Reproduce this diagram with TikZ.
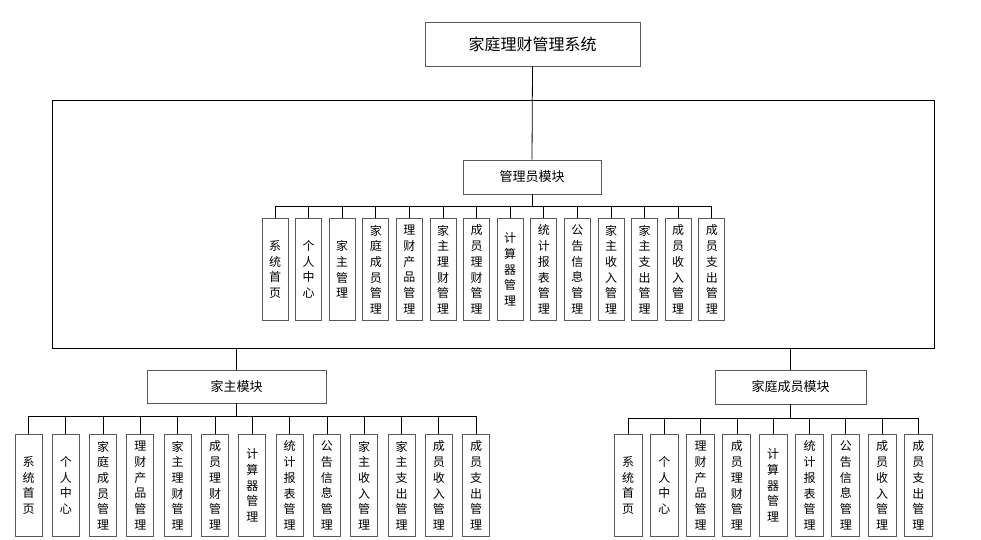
\documentclass[tikz,border=0pt]{standalone}
\usepackage{fontspec}
\newfontfamily\cjk{Noto Sans CJK SC}
\usetikzlibrary{calc}

\tikzset{
  box/.style={draw=black!65, line width=0.9pt, fill=white, inner sep=0pt, font=\cjk\fontsize{13}{15}\selectfont},
  leaf/.style={box, minimum width=26pt, minimum height=102pt, anchor=north, align=center, font=\cjk\fontsize{12}{15.7}\selectfont},
  link/.style={black, line width=0.8pt}
}

\begin{document}
\begin{tikzpicture}[x=1pt,y=-1pt]
\useasboundingbox (0,0) rectangle (981,539);

% top of the tree
\node[box, minimum width=215pt, minimum height=44pt, font=\cjk\fontsize{16}{18}\selectfont] (sys) at (532.5,44) {家庭理财管理系统};
\node[draw=black, line width=0.9pt, minimum width=882pt, minimum height=248pt, inner sep=0pt] (frame) at (493,224) {};
\node[box, minimum width=138pt, minimum height=34pt] (adm) at (532,177) {管理员模块};

\coordinate (abus) at (532,206);
\draw[link] (sys.south) -- (adm.north);
\draw[link] (adm.south) -- (abus);

\foreach \t [count=\i] in {{系\\统\\首\\页},{个\\人\\中\\心},{家\\主\\管\\理},{家\\庭\\成\\员\\管\\理},{理\\财\\产\\品\\管\\理},{家\\主\\理\\财\\管\\理},{成\\员\\理\\财\\管\\理},{计\\算\\器\\管\\理},{统\\计\\报\\表\\管\\理},{公\\告\\信\\息\\管\\理},{家\\主\\收\\入\\管\\理},{家\\主\\支\\出\\管\\理},{成\\员\\收\\入\\管\\理},{成\\员\\支\\出\\管\\理}}
  \node[leaf] (a\i) at ({275+33.6*(\i-1)},218) {\t};
\foreach \i in {1,...,14}
  \draw[link] (abus) -| (a\i.north);

% left branch
\node[box, minimum width=179pt, minimum height=33pt] (hz) at (236.5,386.5) {家主模块};
\coordinate (hbus) at (236.5,416);
\draw[link] (frame.south -| hz.north) -- (hz.north);
\draw[link] (hz.south) -- (hbus);

\foreach \t [count=\i] in {{系\\统\\首\\页},{个\\人\\中\\心},{家\\庭\\成\\员\\管\\理},{理\\财\\产\\品\\管\\理},{家\\主\\理\\财\\管\\理},{成\\员\\理\\财\\管\\理},{计\\算\\器\\管\\理},{统\\计\\报\\表\\管\\理},{公\\告\\信\\息\\管\\理},{家\\主\\收\\入\\管\\理},{家\\主\\支\\出\\管\\理},{成\\员\\收\\入\\管\\理},{成\\员\\支\\出\\管\\理}}
  \node[leaf, minimum width=27pt] (h\i) at ({28.5+37.3*(\i-1)},434) {\t};
\foreach \i in {1,...,13}
  \draw[link] (hbus) -| (h\i.north);

% right branch
\node[box, minimum width=151pt, minimum height=34pt] (hm) at (790.5,387) {家庭成员模块};
\coordinate (mbus) at (790.5,418);
\draw[link] (frame.south -| hm.north) -- (hm.north);
\draw[link] (hm.south) -- (mbus);

\foreach \t [count=\i] in {{系\\统\\首\\页},{个\\人\\中\\心},{理\\财\\产\\品\\管\\理},{成\\员\\理\\财\\管\\理},{计\\算\\器\\管\\理},{统\\计\\报\\表\\管\\理},{公\\告\\信\\息\\管\\理},{成\\员\\收\\入\\管\\理},{成\\员\\支\\出\\管\\理}}
  \node[leaf, minimum width=28pt] (m\i) at ({628+36.3*(\i-1)},434) {\t};
\foreach \i in {1,...,9}
  \draw[link] (mbus) -| (m\i.north);

\end{tikzpicture}
\end{document}
